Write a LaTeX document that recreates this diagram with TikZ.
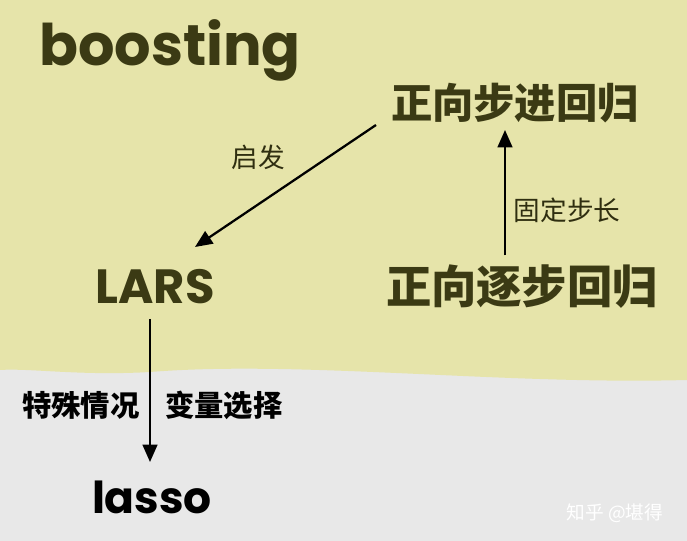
\documentclass[tikz,border=0pt]{standalone}
\usepackage{fontspec}
\setmainfont{Poppins}
\newfontfamily\cjk{Noto Sans CJK SC}
\usetikzlibrary{arrows.meta}
\definecolor{olive}{HTML}{3B3A14}
\definecolor{bgy}{HTML}{E6E4AA}
\definecolor{bgg}{HTML}{E8E8E8}
\begin{document}
\begin{tikzpicture}[x=0.75pt,y=-0.75pt,
  big/.style={text=olive,font=\fontsize{36}{40}\selectfont\bfseries},
  bigc/.style={text=olive,font=\cjk\fontsize{31}{34}\selectfont\bfseries},
  lab/.style={text=olive!80!black,font=\cjk\fontsize{20}{22}\selectfont},
  labk/.style={text=black,font=\cjk\fontsize{22}{24}\selectfont\bfseries},
  arr/.style={draw=black,line width=1.7pt,-{Triangle[length=13pt,width=11pt]}}]
\useasboundingbox (0,0) rectangle (687,541);
\fill[bgg] (0,0) rectangle (687,541);
\fill[bgy] (0,0) -- (687,0) -- (687,380) .. controls (500,385) and (300,360) .. (150,372) .. controls (80,376) and (30,368) .. (0,370) -- cycle;
\node[text=olive,font=\fontsize{43}{46}\selectfont\bfseries] (boost) at (170,50) {boosting};
\node[bigc] (fwd) at (515,103) {正向步进回归};
\node[bigc,font=\cjk\fontsize{34}{36}\selectfont\bfseries] (stw) at (522,287) {正向逐步回归};
\node[big] (lars) at (155,287) {LARS};
\node[text=black,font=\fontsize{33}{36}\selectfont\bfseries] (lasso) at (152,497) {lasso};
\node[lab] (l1) at (258,157) {启发};
\node[lab] (l2) at (567,210) {固定步长};
\node[labk] (l3) at (81,405) {特殊情况};
\node[labk] (l4) at (224,405) {变量选择};
\node[text=white,font=\cjk\fontsize{14}{16}\selectfont] (wm) at (615,513) {知乎 @堪得};
\coordinate (a1) at (376,125); \coordinate (b1) at (195,247);
\draw[arr] (a1) -- (b1);
\draw[arr] (stw.north -| 505,0) ++(0,-5) -- (505,130);
\draw[arr] (lars.south -| 150,0) ++(0,10) -- (150,462);
\end{tikzpicture}
\end{document}
